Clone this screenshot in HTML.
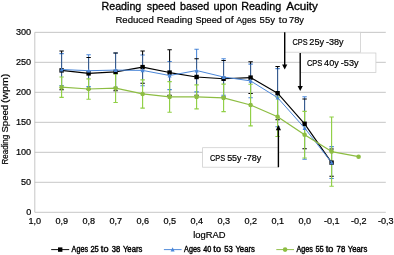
<!DOCTYPE html>
<html lang="en"><head><meta charset="utf-8"><title>Reading speed based upon Reading Acuity</title>
<style>html,body{margin:0;padding:0;background:#fff;overflow:hidden}svg{display:block}text{font-family:"Liberation Sans",sans-serif;fill:#000;stroke:#000;stroke-width:0.2px}</style>
</head><body>
<svg width="394" height="255" viewBox="0 0 394 255">
<rect width="394" height="255" fill="#ffffff"/>
<line x1="34.8" x2="385.8" y1="212.30" y2="212.30" stroke="#bcbcbc" stroke-width="0.85"/>
<line x1="34.8" x2="385.8" y1="182.31" y2="182.31" stroke="#bcbcbc" stroke-width="0.85"/>
<line x1="34.8" x2="385.8" y1="152.32" y2="152.32" stroke="#bcbcbc" stroke-width="0.85"/>
<line x1="34.8" x2="385.8" y1="122.33" y2="122.33" stroke="#bcbcbc" stroke-width="0.85"/>
<line x1="34.8" x2="385.8" y1="92.33" y2="92.33" stroke="#bcbcbc" stroke-width="0.85"/>
<line x1="34.8" x2="385.8" y1="62.34" y2="62.34" stroke="#bcbcbc" stroke-width="0.85"/>
<line x1="34.8" x2="385.8" y1="32.35" y2="32.35" stroke="#bcbcbc" stroke-width="0.85"/>
<line x1="34.8" x2="34.8" y1="32.35" y2="212.30" stroke="#bcbcbc" stroke-width="0.85"/>
<path d="M61.60 53.60V85.40M59.40 53.60h4.4M59.40 85.40h4.4" stroke="#4a86d8" stroke-width="1.05" fill="none"/>
<path d="M88.60 54.80V86.60M86.40 54.80h4.4M86.40 86.60h4.4" stroke="#4a86d8" stroke-width="1.05" fill="none"/>
<path d="M115.60 53.00V87.20M113.40 53.00h4.4M113.40 87.20h4.4" stroke="#4a86d8" stroke-width="1.05" fill="none"/>
<path d="M142.60 54.98V85.82M140.40 54.98h4.4M140.40 85.82h4.4" stroke="#4a86d8" stroke-width="1.05" fill="none"/>
<path d="M169.60 61.40V89.60M167.40 61.40h4.4M167.40 89.60h4.4" stroke="#4a86d8" stroke-width="1.05" fill="none"/>
<path d="M196.60 49.16V91.88M194.40 49.16h4.4M194.40 91.88h4.4" stroke="#4a86d8" stroke-width="1.05" fill="none"/>
<path d="M223.60 58.70V95.30M221.40 58.70h4.4M221.40 95.30h4.4" stroke="#4a86d8" stroke-width="1.05" fill="none"/>
<path d="M250.60 64.10V97.70M248.40 64.10h4.4M248.40 97.70h4.4" stroke="#4a86d8" stroke-width="1.05" fill="none"/>
<path d="M277.60 68.60V126.80M275.40 68.60h4.4M275.40 126.80h4.4" stroke="#4a86d8" stroke-width="1.05" fill="none"/>
<path d="M304.60 96.80V159.20M302.40 96.80h4.4M302.40 159.20h4.4" stroke="#4a86d8" stroke-width="1.05" fill="none"/>
<path d="M331.60 146.60V178.40M329.40 146.60h4.4M329.40 178.40h4.4" stroke="#4a86d8" stroke-width="1.05" fill="none"/>
<path d="M61.60 51.08V53.60M61.60 85.40V89.72M59.40 51.08h4.4M59.40 89.72h4.4" stroke="#000000" stroke-width="1.05" fill="none"/>
<path d="M61.60 53.60V85.40" stroke="#000000" stroke-width="1.05" fill="none" opacity="0.38"/>
<path d="M88.60 86.60V89.30M86.40 57.50h4.4M86.40 89.30h4.4" stroke="#000000" stroke-width="1.05" fill="none"/>
<path d="M88.60 57.50V86.60" stroke="#000000" stroke-width="1.05" fill="none" opacity="0.38"/>
<path d="M115.60 87.20V90.80M113.40 53.00h4.4M113.40 90.80h4.4" stroke="#000000" stroke-width="1.05" fill="none"/>
<path d="M115.60 53.00V87.20" stroke="#000000" stroke-width="1.05" fill="none" opacity="0.38"/>
<path d="M142.60 50.90V54.98M140.40 50.90h4.4M140.40 83.30h4.4" stroke="#000000" stroke-width="1.05" fill="none"/>
<path d="M142.60 54.98V83.30" stroke="#000000" stroke-width="1.05" fill="none" opacity="0.38"/>
<path d="M169.60 49.76V61.40M169.60 89.60V95.36M167.40 49.76h4.4M167.40 95.36h4.4" stroke="#000000" stroke-width="1.05" fill="none"/>
<path d="M169.60 61.40V89.60" stroke="#000000" stroke-width="1.05" fill="none" opacity="0.38"/>
<path d="M196.60 91.88V95.18M194.40 58.82h4.4M194.40 95.18h4.4" stroke="#000000" stroke-width="1.05" fill="none"/>
<path d="M196.60 58.82V91.88" stroke="#000000" stroke-width="1.05" fill="none" opacity="0.38"/>
<path d="M223.60 95.30V97.04M221.40 60.56h4.4M221.40 97.04h4.4" stroke="#000000" stroke-width="1.05" fill="none"/>
<path d="M223.60 60.56V95.30" stroke="#000000" stroke-width="1.05" fill="none" opacity="0.38"/>
<path d="M250.60 61.70V64.10M248.40 61.70h4.4M248.40 93.50h4.4" stroke="#000000" stroke-width="1.05" fill="none"/>
<path d="M250.60 64.10V93.50" stroke="#000000" stroke-width="1.05" fill="none" opacity="0.38"/>
<path d="M277.60 66.56V68.60M275.40 66.56h4.4M275.40 119.84h4.4" stroke="#000000" stroke-width="1.05" fill="none"/>
<path d="M277.60 68.60V119.84" stroke="#000000" stroke-width="1.05" fill="none" opacity="0.38"/>
<path d="M302.40 98.90h4.4M302.40 148.70h4.4" stroke="#000000" stroke-width="1.05" fill="none"/>
<path d="M304.60 98.90V148.70" stroke="#000000" stroke-width="1.05" fill="none" opacity="0.38"/>
<path d="M329.40 149.00h4.4M329.40 176.24h4.4" stroke="#000000" stroke-width="1.05" fill="none"/>
<path d="M331.60 149.00V176.24" stroke="#000000" stroke-width="1.05" fill="none" opacity="0.38"/>
<path d="M61.60 77.00V97.40M59.40 77.00h4.4M59.40 97.40h4.4" stroke="#90d045" stroke-width="1.15" fill="none"/>
<path d="M88.60 78.80V99.20M86.40 78.80h4.4M86.40 99.20h4.4" stroke="#90d045" stroke-width="1.15" fill="none"/>
<path d="M115.60 73.94V102.50M113.40 73.94h4.4M113.40 102.50h4.4" stroke="#90d045" stroke-width="1.15" fill="none"/>
<path d="M142.60 79.88V108.08M140.40 79.88h4.4M140.40 108.08h4.4" stroke="#90d045" stroke-width="1.15" fill="none"/>
<path d="M169.60 81.62V112.22M167.40 81.62h4.4M167.40 112.22h4.4" stroke="#90d045" stroke-width="1.15" fill="none"/>
<path d="M196.60 84.92V108.92M194.40 84.92h4.4M194.40 108.92h4.4" stroke="#90d045" stroke-width="1.15" fill="none"/>
<path d="M223.60 84.08V111.68M221.40 84.08h4.4M221.40 111.68h4.4" stroke="#90d045" stroke-width="1.15" fill="none"/>
<path d="M250.60 84.20V125.84M248.40 84.20h4.4M248.40 125.84h4.4" stroke="#90d045" stroke-width="1.15" fill="none"/>
<path d="M277.60 97.10V136.46M275.40 97.10h4.4M275.40 136.46h4.4" stroke="#90d045" stroke-width="1.15" fill="none"/>
<path d="M304.60 111.44V158.00M302.40 111.44h4.4M302.40 158.00h4.4" stroke="#90d045" stroke-width="1.15" fill="none"/>
<path d="M331.60 116.96V186.20M329.40 116.96h4.4M329.40 186.20h4.4" stroke="#90d045" stroke-width="1.15" fill="none"/>
<polyline points="61.60,70.40 88.60,73.40 115.60,71.90 142.60,67.10 169.60,72.56 196.60,77.00 223.60,78.80 250.60,77.60 277.60,93.20 304.60,123.80 331.60,162.62" fill="none" stroke="#000000" stroke-width="1.15" stroke-linejoin="round"/>
<rect x="59.40" y="68.20" width="4.4" height="4.4" fill="#000000"/>
<rect x="86.40" y="71.20" width="4.4" height="4.4" fill="#000000"/>
<rect x="113.40" y="69.70" width="4.4" height="4.4" fill="#000000"/>
<rect x="140.40" y="64.90" width="4.4" height="4.4" fill="#000000"/>
<rect x="167.40" y="70.36" width="4.4" height="4.4" fill="#000000"/>
<rect x="194.40" y="74.80" width="4.4" height="4.4" fill="#000000"/>
<rect x="221.40" y="76.60" width="4.4" height="4.4" fill="#000000"/>
<rect x="248.40" y="75.40" width="4.4" height="4.4" fill="#000000"/>
<rect x="275.40" y="91.00" width="4.4" height="4.4" fill="#000000"/>
<rect x="302.40" y="121.60" width="4.4" height="4.4" fill="#000000"/>
<rect x="329.40" y="160.42" width="4.4" height="4.4" fill="#000000"/>
<polyline points="61.60,69.50 88.60,70.70 115.60,70.10 142.60,70.40 169.60,75.50 196.60,70.52 223.60,77.00 250.60,80.90 277.60,97.70 304.60,128.00 331.60,162.50" fill="none" stroke="#4a86d8" stroke-width="1.0" stroke-linejoin="round"/>
<path d="M61.60 67.20L63.60 71.40H59.60Z" fill="#4a86d8"/>
<path d="M88.60 68.40L90.60 72.60H86.60Z" fill="#4a86d8"/>
<path d="M115.60 67.80L117.60 72.00H113.60Z" fill="#4a86d8"/>
<path d="M142.60 68.10L144.60 72.30H140.60Z" fill="#4a86d8"/>
<path d="M169.60 73.20L171.60 77.40H167.60Z" fill="#4a86d8"/>
<path d="M196.60 68.22L198.60 72.42H194.60Z" fill="#4a86d8"/>
<path d="M223.60 74.70L225.60 78.90H221.60Z" fill="#4a86d8"/>
<path d="M250.60 78.60L252.60 82.80H248.60Z" fill="#4a86d8"/>
<path d="M277.60 95.40L279.60 99.60H275.60Z" fill="#4a86d8"/>
<path d="M304.60 125.70L306.60 129.90H302.60Z" fill="#4a86d8"/>
<path d="M331.60 160.20L333.60 164.40H329.60Z" fill="#4a86d8"/>
<polyline points="61.60,87.20 88.60,89.00 115.60,88.22 142.60,93.98 169.60,96.92 196.60,96.92 223.60,97.88 250.60,105.02 277.60,116.78 304.60,134.72 331.60,151.58 358.60,156.68" fill="none" stroke="#8dbd42" stroke-width="1.25" stroke-linejoin="round"/>
<circle cx="61.60" cy="87.20" r="2.3" fill="#8dbd42"/>
<circle cx="88.60" cy="89.00" r="2.3" fill="#8dbd42"/>
<circle cx="115.60" cy="88.22" r="2.3" fill="#8dbd42"/>
<circle cx="142.60" cy="93.98" r="2.3" fill="#8dbd42"/>
<circle cx="169.60" cy="96.92" r="2.3" fill="#8dbd42"/>
<circle cx="196.60" cy="96.92" r="2.3" fill="#8dbd42"/>
<circle cx="223.60" cy="97.88" r="2.3" fill="#8dbd42"/>
<circle cx="250.60" cy="105.02" r="2.3" fill="#8dbd42"/>
<circle cx="277.60" cy="116.78" r="2.3" fill="#8dbd42"/>
<circle cx="304.60" cy="134.72" r="2.3" fill="#8dbd42"/>
<circle cx="331.60" cy="151.58" r="2.3" fill="#8dbd42"/>
<circle cx="358.60" cy="156.68" r="2.3" fill="#8dbd42"/>
<rect x="284.7" y="32.3" width="75.9" height="19.9" fill="#ffffff" stroke="#cfcfcf" stroke-width="0.8"/>
<text y="45.2" font-size="9.6"><tspan x="292.43" textLength="15.13" lengthAdjust="spacingAndGlyphs">CPS</tspan> <tspan x="309.35" textLength="14.65" lengthAdjust="spacingAndGlyphs">25y</tspan> <tspan x="325.94" textLength="17.66" lengthAdjust="spacingAndGlyphs">-38y</tspan></text>
<rect x="300.3" y="53.0" width="75.6" height="19.4" fill="#ffffff" stroke="#cfcfcf" stroke-width="0.8"/>
<text y="66.0" font-size="9.6"><tspan x="306.93" textLength="15.39" lengthAdjust="spacingAndGlyphs">CPS</tspan> <tspan x="324.12" textLength="14.68" lengthAdjust="spacingAndGlyphs">40y</tspan> <tspan x="340.73" textLength="17.87" lengthAdjust="spacingAndGlyphs">-53y</tspan></text>
<rect x="202.6" y="147.7" width="75.8" height="19.5" fill="#ffffff" stroke="#cfcfcf" stroke-width="0.8"/>
<text y="160.5" font-size="9.6"><tspan x="209.93" textLength="15.18" lengthAdjust="spacingAndGlyphs">CPS</tspan> <tspan x="227.14" textLength="14.36" lengthAdjust="spacingAndGlyphs">55y</tspan> <tspan x="243.74" textLength="17.56" lengthAdjust="spacingAndGlyphs">-78y</tspan></text>
<path d="M284.7 32.2V65.6" stroke="#000" stroke-width="1.4" fill="none"/>
<path d="M284.7 69.6L282.09999999999997 64.39999999999999H287.3Z" fill="#000"/>
<path d="M300.2 53.0V87.1" stroke="#000" stroke-width="1.4" fill="none"/>
<path d="M300.2 91.1L297.59999999999997 85.89999999999999H302.8Z" fill="#000"/>
<path d="M278.4 167.2V129.0" stroke="#000" stroke-width="1.4" fill="none"/>
<path d="M278.4 125.0L275.79999999999995 130.2H281.0Z" fill="#000"/>
<text y="9.6" font-size="11.4" style="stroke-width:0.32px"><tspan x="101.55" textLength="39.7" lengthAdjust="spacingAndGlyphs">Reading</tspan> <tspan x="146.83" textLength="28.91" lengthAdjust="spacingAndGlyphs">speed</tspan> <tspan x="179.95" textLength="29.3" lengthAdjust="spacingAndGlyphs">based</tspan> <tspan x="213.45" textLength="24.22" lengthAdjust="spacingAndGlyphs">upon</tspan> <tspan x="241.14" textLength="40.02" lengthAdjust="spacingAndGlyphs">Reading</tspan> <tspan x="286.2" textLength="31.7" lengthAdjust="spacingAndGlyphs">Acuity</tspan></text>
<text y="22.7" font-size="9.8"><tspan x="115.43" textLength="38.35" lengthAdjust="spacingAndGlyphs">Reduced</tspan> <tspan x="156.73" textLength="35.75" lengthAdjust="spacingAndGlyphs">Reading</tspan> <tspan x="195.39" textLength="26.58" lengthAdjust="spacingAndGlyphs">Speed</tspan> <tspan x="224.78" textLength="8.8" lengthAdjust="spacingAndGlyphs">of</tspan> <tspan x="236.3" textLength="19.8" lengthAdjust="spacingAndGlyphs">Ages</tspan> <tspan x="259.62" textLength="15.38" lengthAdjust="spacingAndGlyphs">55y</tspan> <tspan x="278.85" textLength="8.36" lengthAdjust="spacingAndGlyphs">to</tspan> <tspan x="289.04" textLength="14.96" lengthAdjust="spacingAndGlyphs">78y</tspan></text>
<text x="31.2" y="215.40" font-size="9.1" text-anchor="end">0</text>
<text x="31.2" y="185.41" font-size="9.1" text-anchor="end">50</text>
<text x="31.2" y="155.42" font-size="9.1" text-anchor="end">100</text>
<text x="31.2" y="125.42" font-size="9.1" text-anchor="end">150</text>
<text x="31.2" y="95.43" font-size="9.1" text-anchor="end">200</text>
<text x="31.2" y="65.44" font-size="9.1" text-anchor="end">250</text>
<text x="31.2" y="35.45" font-size="9.1" text-anchor="end">300</text>
<text x="34.85" y="224.2" font-size="9.1" text-anchor="middle">1,0</text>
<text x="61.85" y="224.2" font-size="9.1" text-anchor="middle">0,9</text>
<text x="88.85" y="224.2" font-size="9.1" text-anchor="middle">0,8</text>
<text x="115.85" y="224.2" font-size="9.1" text-anchor="middle">0,7</text>
<text x="142.85" y="224.2" font-size="9.1" text-anchor="middle">0,6</text>
<text x="169.85" y="224.2" font-size="9.1" text-anchor="middle">0,5</text>
<text x="196.85" y="224.2" font-size="9.1" text-anchor="middle">0,4</text>
<text x="223.85" y="224.2" font-size="9.1" text-anchor="middle">0,3</text>
<text x="250.85" y="224.2" font-size="9.1" text-anchor="middle">0,2</text>
<text x="277.85" y="224.2" font-size="9.1" text-anchor="middle">0,1</text>
<text x="304.85" y="224.2" font-size="9.1" text-anchor="middle">0,0</text>
<text x="331.85" y="224.2" font-size="9.1" text-anchor="middle">-0,1</text>
<text x="358.85" y="224.2" font-size="9.1" text-anchor="middle">-0,2</text>
<text x="385.85" y="224.2" font-size="9.1" text-anchor="middle">-0,3</text>
<text y="237.5" font-size="9.6"><tspan x="193.29" textLength="32.35" lengthAdjust="spacingAndGlyphs">logRAD</tspan></text>
<text y="0" font-size="9.2" transform="translate(8.1,163.8) rotate(-90)"><tspan x="-0.64" textLength="29.62" lengthAdjust="spacingAndGlyphs">Reading</tspan> <tspan x="31.27" textLength="27.72" lengthAdjust="spacingAndGlyphs">Speed</tspan> <tspan x="60.77" textLength="29.35" lengthAdjust="spacingAndGlyphs">(wpm)</tspan></text>
<line x1="51.2" x2="69.2" y1="249.6" y2="249.6" stroke="#000000" stroke-width="0.95"/>
<rect x="58.00" y="247.40" width="4.4" height="4.4" fill="#000000"/>
<text y="252.2" font-size="8.3" style="stroke-width:0.4px"><tspan x="71.6" textLength="16.45" lengthAdjust="spacingAndGlyphs">Ages</tspan> <tspan x="90.42" textLength="8.39" lengthAdjust="spacingAndGlyphs">25</tspan> <tspan x="100.86" textLength="7.61" lengthAdjust="spacingAndGlyphs">to</tspan> <tspan x="111.83" textLength="8.48" lengthAdjust="spacingAndGlyphs">38</tspan> <tspan x="122.95" textLength="19.42" lengthAdjust="spacingAndGlyphs">Years</tspan></text>
<line x1="163.9" x2="181.6" y1="249.6" y2="249.6" stroke="#4a86d8" stroke-width="0.95"/>
<path d="M172.60 247.30L174.60 251.50H170.60Z" fill="#4a86d8"/>
<text y="252.2" font-size="8.3" style="stroke-width:0.4px"><tspan x="184.1" textLength="16.45" lengthAdjust="spacingAndGlyphs">Ages</tspan> <tspan x="203.15" textLength="8.11" lengthAdjust="spacingAndGlyphs">40</tspan> <tspan x="213.36" textLength="7.61" lengthAdjust="spacingAndGlyphs">to</tspan> <tspan x="224.29" textLength="8.52" lengthAdjust="spacingAndGlyphs">53</tspan> <tspan x="235.45" textLength="19.42" lengthAdjust="spacingAndGlyphs">Years</tspan></text>
<line x1="276.3" x2="294.0" y1="249.6" y2="249.6" stroke="#8dbd42" stroke-width="0.95"/>
<circle cx="285.10" cy="249.60" r="2.3" fill="#8dbd42"/>
<text y="252.2" font-size="8.3" style="stroke-width:0.4px"><tspan x="296.5" textLength="16.45" lengthAdjust="spacingAndGlyphs">Ages</tspan> <tspan x="315.4" textLength="8.31" lengthAdjust="spacingAndGlyphs">55</tspan> <tspan x="325.76" textLength="7.61" lengthAdjust="spacingAndGlyphs">to</tspan> <tspan x="336.61" textLength="8.61" lengthAdjust="spacingAndGlyphs">78</tspan> <tspan x="347.85" textLength="19.42" lengthAdjust="spacingAndGlyphs">Years</tspan></text>
</svg>
</body></html>
